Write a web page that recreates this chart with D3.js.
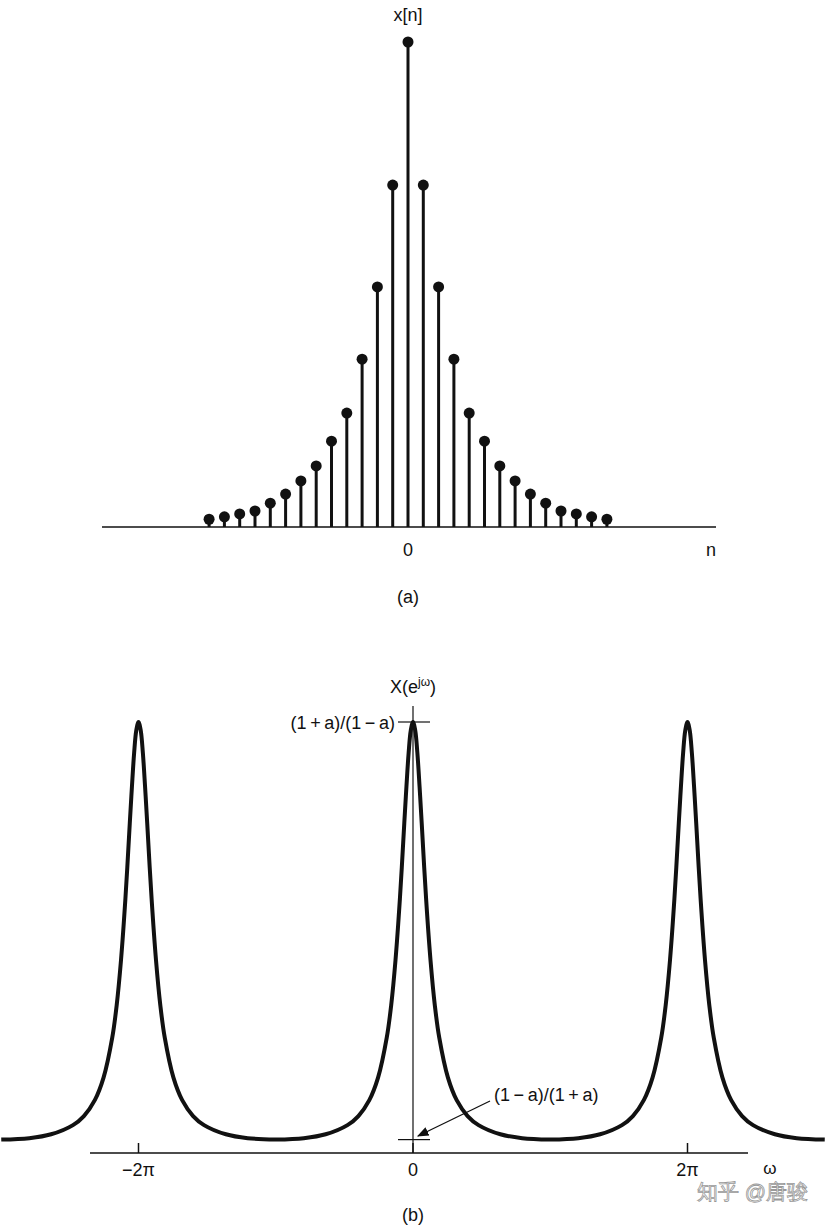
<!DOCTYPE html>
<html><head><meta charset="utf-8">
<script src="https://cdn.jsdelivr.net/npm/d3@7"></script>
<style>body{margin:0;background:#fff}text{font-family:"Liberation Sans",Arial,sans-serif;fill:#111}</style>
</head><body>
<svg id="chart" width="828" height="1226"></svg>
<script>
// stem values read from (a), n = -13..13 (symmetric)
var stemN = d3.range(-13, 14);
var stemHalf = [1.0, 0.705, 0.495, 0.346, 0.235, 0.177, 0.126, 0.095, 0.068, 0.049, 0.033, 0.027, 0.021, 0.016];
var stemVals = stemN.map(function (n) { return stemHalf[Math.abs(n)]; });

// spectrum (b): half period samples, omega (rad) and magnitude
var omegaHalf = [0, 0.05, 0.1, 0.15, 0.2, 0.3, 0.4, 0.5, 0.6, 0.8, 1.0, 1.25, 1.5, 2.0, 2.5, Math.PI];
var magHalf = [5.667, 5.56, 5.26, 4.82, 4.33, 3.34, 2.54, 1.94, 1.52, 0.991, 0.695, 0.486, 0.367, 0.246, 0.195, 0.176];
var xTicks = [{v: -2 * Math.PI, t: "\u22122\u03c0"}, {v: 0, t: "0"}, {v: 2 * Math.PI, t: "2\u03c0"}];

var svg = d3.select("#chart");

// ---- (a) ----
var xa = d3.scaleLinear().domain([0, 1]).range([408, 423.3]);
var ya = d3.scaleLinear().domain([0, 1]).range([527, 42]);
svg.append("line").attr("x1", 102).attr("x2", 716).attr("y1", 527).attr("y2", 527)
  .attr("stroke", "#111").attr("stroke-width", 1.5);
var g = svg.append("g");
stemN.forEach(function (n, i) {
  g.append("line").attr("x1", xa(n)).attr("x2", xa(n)).attr("y1", ya(0)).attr("y2", ya(stemVals[i]))
    .attr("stroke", "#111").attr("stroke-width", 3);
  g.append("circle").attr("cx", xa(n)).attr("cy", ya(stemVals[i])).attr("r", 5.5).attr("fill", "#111");
});
svg.append("text").attr("x", 408).attr("y", 21).attr("text-anchor", "middle").attr("font-size", 18).text("x[n]");
svg.append("text").attr("x", 408).attr("y", 556).attr("text-anchor", "middle").attr("font-size", 18).text("0");
svg.append("text").attr("x", 711).attr("y", 556).attr("text-anchor", "middle").attr("font-size", 18).text("n");
svg.append("text").attr("x", 408).attr("y", 603).attr("text-anchor", "middle").attr("font-size", 18).text("(a)");

// ---- (b) ----
var xb = d3.scaleLinear().domain([0, 2 * Math.PI]).range([413, 687.5]);
var yb = d3.scaleLinear().domain([0, 5.667]).range([1153, 722]);
var pts = [];
for (var k = -2; k <= 2; k++) {
  var c = k * 2 * Math.PI;
  for (var i = omegaHalf.length - 1; i > 0; i--) pts.push([c - omegaHalf[i], magHalf[i]]);
  for (var j = 0; j < omegaHalf.length; j++) pts.push([c + omegaHalf[j], magHalf[j]]);
}
pts = pts.filter(function (p) { return xb(p[0]) > -20 && xb(p[0]) < 850; });
svg.append("line").attr("x1", 90).attr("x2", 748).attr("y1", 1153).attr("y2", 1153)
  .attr("stroke", "#111").attr("stroke-width", 1.5);
svg.append("line").attr("x1", 413).attr("x2", 413).attr("y1", 706).attr("y2", 1153)
  .attr("stroke", "#111").attr("stroke-width", 1.2);
svg.append("line").attr("x1", 398).attr("x2", 430).attr("y1", yb(5.667)).attr("y2", yb(5.667))
  .attr("stroke", "#111").attr("stroke-width", 1.2);
svg.append("line").attr("x1", 398).attr("x2", 430).attr("y1", yb(0.176)).attr("y2", yb(0.176))
  .attr("stroke", "#111").attr("stroke-width", 1.2);
svg.append("path").datum(pts)
  .attr("d", d3.line().x(function (p) { return xb(p[0]); }).y(function (p) { return yb(p[1]); }).curve(d3.curveCatmullRom))
  .attr("fill", "none").attr("stroke", "#111").attr("stroke-width", 4);
xTicks.forEach(function (t) {
  svg.append("line").attr("x1", xb(t.v)).attr("x2", xb(t.v)).attr("y1", 1153).attr("y2", 1143)
    .attr("stroke", "#111").attr("stroke-width", 1.5);
  svg.append("text").attr("x", xb(t.v)).attr("y", 1176).attr("text-anchor", "middle").attr("font-size", 18).text(t.t);
});
svg.append("text").attr("x", 770).attr("y", 1174).attr("text-anchor", "middle").attr("font-size", 17).text("\u03c9");
var lab = svg.append("text").attr("x", 413).attr("y", 693).attr("text-anchor", "middle").attr("font-size", 18);
lab.append("tspan").text("X(e");
lab.append("tspan").attr("font-size", 12).attr("dy", -7).text("j\u03c9");
lab.append("tspan").attr("dy", 7).text(")");
svg.append("text").attr("x", 395).attr("y", 729).attr("text-anchor", "end").attr("font-size", 18).text("(1\u2009+\u2009a)/(1\u2009\u2212\u2009a)");
svg.append("text").attr("x", 494).attr("y", 1101).attr("font-size", 18).text("(1\u2009\u2212\u2009a)/(1\u2009+\u2009a)");
svg.append("defs").append("marker").attr("id", "ah").attr("viewBox", "0 0 10 10").attr("refX", 9).attr("refY", 5)
  .attr("markerWidth", 9).attr("markerHeight", 9).attr("orient", "auto")
  .append("path").attr("d", "M0,1 L10,5 L0,9 Z").attr("fill", "#111");
svg.append("line").attr("x1", 490).attr("y1", 1101).attr("x2", 418).attr("y2", 1136)
  .attr("stroke", "#111").attr("stroke-width", 1.3).attr("marker-end", "url(#ah)");
svg.append("text").attr("x", 413).attr("y", 1221).attr("text-anchor", "middle").attr("font-size", 18).text("(b)");
svg.append("text").attr("x", 808).attr("y", 1199).attr("text-anchor", "end").attr("font-size", 21)
  .style("fill", "#fff").attr("stroke", "#999").attr("stroke-width", 0.8)
  .attr("font-family", "Noto Sans CJK SC").text("知乎 @唐骏");
</script>
</body></html>
